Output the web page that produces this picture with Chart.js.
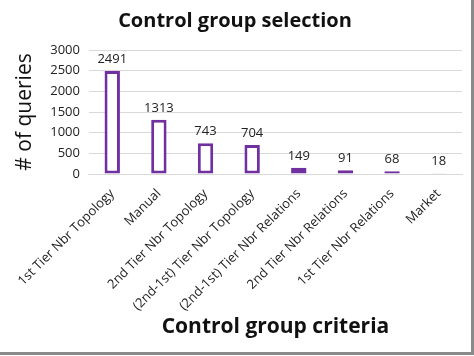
<!DOCTYPE html>
<html>
<head>
<meta charset="utf-8">
<script src="https://cdn.jsdelivr.net/npm/chart.js@4"></script>
<style>
  html, body { margin: 0; padding: 0; background: #fff; }
  #wrap { position: relative; width: 471px; height: 352px; border-right: 3px solid #8a8a8a; border-bottom: 3px solid #8a8a8a; background:#fff; }
</style>
</head>
<body>
<div id="wrap"><canvas id="c"></canvas></div>
<script>
const categories = ["1st Tier Nbr Topology", "Manual", "2nd Tier Nbr Topology", "(2nd-1st) Tier Nbr Topology", "(2nd-1st) Tier Nbr Relations", "2nd Tier Nbr Relations", "1st Tier Nbr Relations", "Market"];
const queryCounts = [2491, 1313, 743, 704, 149, 91, 68, 18];
const yTicks = [0, 500, 1000, 1500, 2000, 2500, 3000];

const FONT = "'Open Sans', 'Liberation Sans', sans-serif";

const valueLabels = {
  id: 'valueLabels',
  afterDatasetsDraw(chart) {
    const ctx = chart.ctx;
    const meta = chart.getDatasetMeta(0);
    ctx.save();
    ctx.font = "13px " + FONT;
    ctx.fillStyle = "#222";
    ctx.textAlign = "center";
    ctx.textBaseline = "bottom";
    meta.data.forEach((bar, i) => {
      ctx.fillText(String(queryCounts[i]), bar.x, bar.y - 5);
    });
    ctx.restore();
  }
};

new Chart(document.getElementById('c'), {
  type: 'bar',
  data: {
    labels: categories,
    datasets: [{
      data: queryCounts,
      backgroundColor: '#ffffff',
      borderColor: '#7030A0',
      borderWidth: 3,
      borderSkipped: false,
      barPercentage: 0.33,
      categoryPercentage: 1.0
    }]
  },
  options: {
    responsive: true,
    maintainAspectRatio: false,
    animation: false,
    layout: { padding: { top: 4, right: 9, left: 8, bottom: 8 } },
    plugins: {
      legend: { display: false },
      tooltip: { enabled: false },
      title: {
        display: true,
        text: 'Control group selection',
        font: { family: FONT, size: 20, weight: 'bold' },
        color: '#111',
        padding: { top: 5, bottom: 17 }
      }
    },
    scales: {
      y: {
        min: 0, max: 3000,
        afterBuildTicks(axis) { axis.ticks = yTicks.map(v => ({ value: v })); },
        ticks: { font: { family: FONT, size: 13 }, color: '#222', padding: 9, callback: v => String(v) },
        grid: { color: '#d9d9d9', drawTicks: false },
        border: { display: false },
        title: {
          display: true, text: '# of queries',
          font: { family: FONT, size: 21 }, color: '#111', padding: { bottom: 4 }
        }
      },
      x: {
        ticks: { font: { family: FONT, size: 13 }, color: '#222', minRotation: 45, maxRotation: 45, padding: 4 },
        grid: { display: false },
        border: { display: true, color: '#d9d9d9' },
        title: {
          display: true, text: 'Control group criteria',
          font: { family: FONT, size: 21, weight: 'bold' }, color: '#111', padding: { top: 6 }
        }
      }
    }
  },
  plugins: [valueLabels]
});
</script>
</body>
</html>
